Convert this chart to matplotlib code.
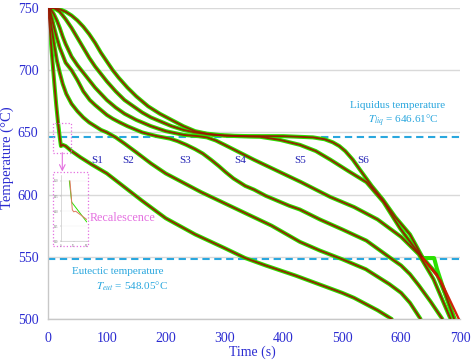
import matplotlib
matplotlib.use("Agg")
import matplotlib.pyplot as plt
from matplotlib.patches import Rectangle

plt.rcParams['font.family'] = ['Liberation Serif', 'DejaVu Serif']
plt.rcParams['mathtext.fontset'] = 'stix'

# ---------------- data (time s, temperature degC) ----------------
s1_t = [0, 2, 5, 8, 11, 14, 17, 20, 22, 25, 30, 40, 55, 75, 100, 130, 160, 200, 250, 300, 335, 370, 420, 460, 480, 500, 520, 540, 560, 584]
s1_T = [750, 740, 722, 705, 688, 672, 658, 646, 639, 640, 639, 635, 630, 624, 617, 606, 595, 581, 568, 557, 549, 543, 535, 528, 524.5, 521, 517, 512, 507, 500]

s2_t = [0, 2, 5, 10, 15, 20, 25, 31, 40, 50, 60, 70, 80, 90, 100, 115, 130, 150, 175, 200, 224, 260, 300, 340, 380, 428, 462, 500, 540, 560, 580, 600, 615, 633]
s2_T = [750, 748, 738, 722, 708, 698, 689, 681, 673, 667, 662, 658, 655, 652, 650, 646, 641, 634, 625, 617, 611, 602, 593, 584, 575, 562, 555, 548, 540, 534, 528, 521, 513, 500]

s3_t = [0, 3, 6, 10, 15, 20, 25, 30, 40, 50, 60, 71, 80, 90, 100, 110, 122, 135, 150, 160, 172, 185, 196, 207, 220, 235, 250, 263, 277, 290, 302, 315, 335, 350, 370, 390, 410, 428, 462, 500, 541, 582, 600, 615, 630, 650, 670]
s3_T = [750, 749, 743, 735, 726, 718, 712, 706, 700, 692, 683, 676, 672, 668, 664, 661, 658, 655, 652, 650, 648.5, 647, 646, 645, 643, 640, 636.5, 633, 628, 623, 618, 613, 607, 604, 599, 595, 591, 588, 580, 572, 563, 549, 543, 536, 527, 514, 500]

s4_t = [0, 5, 10, 15, 20, 25, 30, 40, 50, 60, 70, 80, 90, 100, 115, 130, 150, 175, 200, 230, 255, 270, 285, 300, 325, 350, 390, 430, 480, 520, 560, 600, 630, 655, 684]
s4_T = [750, 749, 745, 740, 734, 727, 721, 711, 704, 698, 692, 686, 681, 676, 670, 665, 660, 655, 651, 648, 647, 646, 643.5, 640, 634, 628, 619, 610, 598, 590, 580, 566, 552, 532, 500]

s5_t = [0, 10, 20, 30, 40, 50, 60, 70, 80, 90, 100, 115, 130, 145, 160, 175, 190, 210, 230, 250, 280, 320, 360, 394, 428, 455, 480, 510, 541, 570, 598, 620, 637, 661, 675, 690]
s5_T = [750, 750, 747, 741, 734, 726, 718, 710, 703, 697, 691, 683, 676, 671, 666, 662, 659, 655, 652, 650, 648, 647, 646.5, 644, 640, 635, 628, 619, 610, 594, 573, 559, 549, 536, 520, 500]

s6_t = [0, 10, 20, 30, 40, 50, 60, 70, 80, 90, 100, 110, 120, 135, 150, 170, 190, 210, 230, 250, 270, 300, 340, 400, 450, 470, 484, 495, 505, 518, 530, 550, 569, 590, 615, 637]
s6_T = [750, 750, 749, 747, 744, 740, 735, 729, 722, 714, 707, 700, 694, 686, 679, 671, 665, 660, 655, 651, 649, 647.5, 647, 647, 646, 644.5, 642, 639, 635, 628, 620, 607, 596, 582, 568, 549]
s6_green_tail_t = [637, 656, 661, 675, 691]
s6_green_tail_T = [549, 549, 540, 520, 500]
s6_red_tail_t = [637, 667, 698]
s6_red_tail_T = [549, 531, 500]

curve_names = ['S1', 'S2', 'S3', 'S4', 'S5', 'S6']
label_t = [83, 136, 233, 326, 428, 535]
label_T = [627.5] * 6

T_liq = 646.61
T_eut = 548.05

# recalescence inset
rec_green_t = [10, 12.7, 30]
rec_green_T = [650, 643, 636.5]
rec_red_t = [10.7, 13.4, 15, 17.3, 30]
rec_red_T = [650, 640.5, 639.8, 640.0, 637.3]

# ---------------- styling ----------------
green = '#2be000'
red = '#9a1600'
blue_txt = '#2b2bd1'
sky = '#2aa7de'
pink = '#e46fe0'

fig = plt.figure(figsize=(4.74, 3.63), dpi=100)
ax = fig.add_axes([48/474, 44/363, 412/474, 311/363])

ax.set_xlim(0, 700)
ax.set_ylim(500, 750)
ax.set_xticks(range(0, 701, 100))
ax.set_yticks(range(500, 751, 50))
ax.grid(axis='y', color='#d9d9d9', lw=1.0, zorder=0)
ax.set_axisbelow(True)
for sp in ['top', 'right']:
    ax.spines[sp].set_visible(False)
for sp in ['left', 'bottom']:
    ax.spines[sp].set_color('#c8c8c8')
    ax.spines[sp].set_linewidth(1.0)
ax.tick_params(length=0, labelsize=10, labelcolor=blue_txt)
ax.tick_params(axis='x', pad=9)
ax.tick_params(axis='y', pad=7)

ax.set_xlabel('Time (s)', fontsize=10, color=blue_txt)
ax.set_ylabel('Temperature (°C)', fontsize=10.5, color=blue_txt)
ax.xaxis.set_label_coords(0.495, -0.085)
ax.yaxis.set_label_coords(-0.083, 0.52)

# reference lines
ax.axhline(T_liq, color=sky, lw=1.5, dashes=(3.5, 2.2), zorder=1.5)
ax.axhline(T_eut, color=sky, lw=1.5, dashes=(3.5, 2.2), zorder=1.5)

curves = [(s1_t, s1_T), (s2_t, s2_T), (s3_t, s3_T), (s4_t, s4_T), (s5_t, s5_T), (s6_t, s6_T)]
glw, rlw = 2.9, 1.35
for t, T in curves:
    ax.plot(t, T, color=green, lw=glw, solid_capstyle='round', solid_joinstyle='round', zorder=2)
ax.plot(s6_green_tail_t, s6_green_tail_T, color=green, lw=glw, solid_joinstyle='round', zorder=2)
for t, T in curves:
    ax.plot(t, T, color=red, lw=rlw, alpha=0.9, solid_joinstyle='round', zorder=3)
ax.plot(s6_red_tail_t, s6_red_tail_T, color='#d01800', lw=rlw + 0.3, alpha=0.95, zorder=3)

for name, x, y in zip(curve_names, label_t, label_T):
    ax.text(x, y, name, fontsize=8, color='#2323b5', ha='center', va='center', zorder=4)

# annotations
ax.text(594, 672, 'Liquidus temperature', fontsize=8, color=sky, ha='center', va='center')
ax.text(603, 659, r'$T_{liq}$ = 646.61°C', fontsize=8, color=sky, ha='center', va='center')
ax.text(119, 538, 'Eutectic temperature', fontsize=8, color=sky, ha='center', va='center')
ax.text(143, 526, r'$T_{eut}$ = 548.05°C', fontsize=8, color=sky, ha='center', va='center')

# recalescence boxes
ax.add_patch(Rectangle((9.0, 633.7), 29.6, 23.5, fill=False, ec=pink, lw=0.9, ls=':', zorder=4))
ax.add_patch(Rectangle((7.9, 558.3), 60.6, 60.1, fill=False, ec=pink, lw=0.9, ls=':', zorder=4))
ax.annotate('', xy=(24.3, 618.6), xytext=(24.3, 633.7),
            arrowprops=dict(arrowstyle='->', color=pink, lw=0.8, shrinkA=0, shrinkB=0), zorder=4)
ax.text(71.5, 581.3, 'Recalescence', fontsize=8.7, color=pink, ha='left', va='center')

iax = ax.inset_axes([21.6, 562.3, 44.1, 53.5], transform=ax.transData)
iax.plot(rec_green_t, rec_green_T, color=green, lw=0.7)
iax.plot(rec_red_t, rec_red_T, color='#e07a60', lw=0.7)
iax.set_xlim(0, 30)
iax.set_ylim(630, 652)
iax.set_xticks([0, 15, 30])
iax.set_yticks([630, 635, 640, 645, 650])
iax.tick_params(labelsize=2.2, labelcolor='#777777', length=1, width=0.3, pad=0.8, color='#999999')
iax.grid(axis='y', color='#eeeeee', lw=0.3)
for sp in ['top', 'right']:
    iax.spines[sp].set_visible(False)
for sp in ['left', 'bottom']:
    iax.spines[sp].set_color('#bbbbbb')
    iax.spines[sp].set_linewidth(0.4)
iax.patch.set_alpha(0)

fig.savefig('out.png', dpi=100)
